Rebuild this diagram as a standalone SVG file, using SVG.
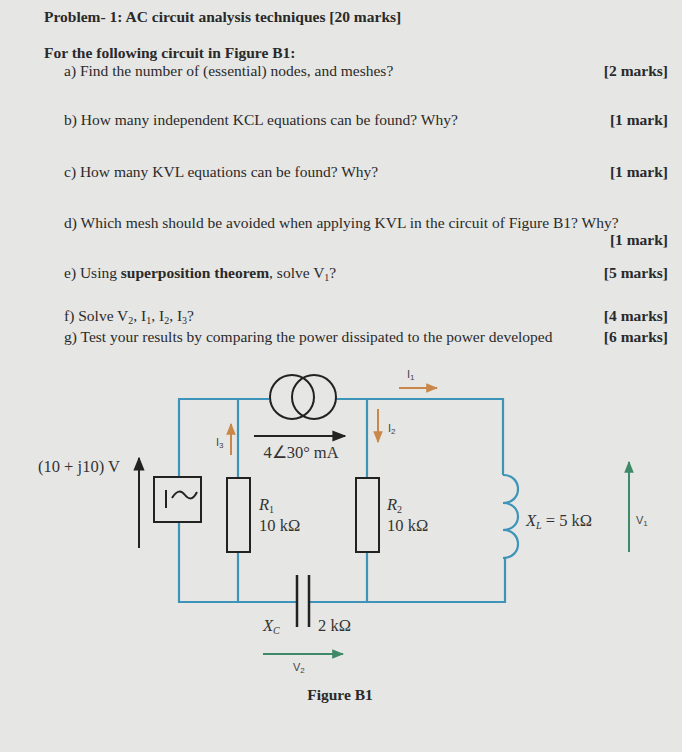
<svg xmlns="http://www.w3.org/2000/svg" width="682" height="752" viewBox="0 0 682 752">
<defs>
<style>
.t{font-family:"Liberation Serif",serif;font-size:15.5px;fill:#2a2a2a}
.b{font-weight:bold}
.w{fill:none;stroke:#3d93b8;stroke-width:2.2}
.k{fill:none;stroke:#222;stroke-width:2}
.c{font-family:"Liberation Serif",serif;font-size:16.5px;fill:#333}
.s{font-family:"Liberation Sans",sans-serif;font-size:11px;fill:#444}
</style>
<marker id="ak" viewBox="0 0 10 10" refX="9" refY="5" markerWidth="7" markerHeight="7" orient="auto"><path d="M0,1L10,5L0,9z" fill="#222"/></marker>
<marker id="ao" viewBox="0 0 10 10" refX="9" refY="5" markerWidth="6" markerHeight="6" orient="auto"><path d="M0,1L10,5L0,9z" fill="#c9874a"/></marker>
<marker id="ag" viewBox="0 0 10 10" refX="9" refY="5" markerWidth="6" markerHeight="6" orient="auto"><path d="M0,1L10,5L0,9z" fill="#3e8a68"/></marker>
</defs>
<rect width="682" height="752" fill="#e6e6e4"/>
<g id="text">
<text class="t b" x="44" y="22">Problem- 1: AC circuit analysis techniques [20 marks]</text>
<text class="t" x="44" y="58"><tspan class="b">For the following circuit in Figure B1:</tspan></text>
<text class="t" x="64" y="76">a)   Find the number of (essential) nodes, and meshes?</text>
<text class="t b" x="668" y="76" text-anchor="end">[2 marks]</text>
<text class="t" x="64" y="125">b)   How many independent KCL equations can be found? Why?</text>
<text class="t b" x="668" y="125" text-anchor="end">[1 mark]</text>
<text class="t" x="64" y="177">c)   How many KVL equations can be found? Why?</text>
<text class="t b" x="668" y="177" text-anchor="end">[1 mark]</text>
<text class="t" x="64" y="228">d)   Which mesh should be avoided when applying KVL in the circuit of Figure B1? Why?</text>
<text class="t b" x="668" y="245" text-anchor="end">[1 mark]</text>
<text class="t" x="64" y="278">e)   Using <tspan class="b">superposition theorem</tspan>, solve V<tspan font-size="10" dy="3">1</tspan><tspan dy="-3">?</tspan></text>
<text class="t b" x="668" y="278" text-anchor="end">[5 marks]</text>
<text class="t" x="64" y="321">f)   Solve V<tspan font-size="10" dy="3">2</tspan><tspan dy="-3">, I</tspan><tspan font-size="10" dy="3">1</tspan><tspan dy="-3">, I</tspan><tspan font-size="10" dy="3">2</tspan><tspan dy="-3">, I</tspan><tspan font-size="10" dy="3">3</tspan><tspan dy="-3">?</tspan></text>
<text class="t b" x="668" y="321" text-anchor="end">[4 marks]</text>
<text class="t" x="64" y="342">g)   Test your results by comparing the power dissipated to the power developed</text>
<text class="t b" x="668" y="342" text-anchor="end">[6 marks]</text>
<text class="t b" x="340" y="700" text-anchor="middle" font-size="14">Figure B1</text>
</g>
<g id="connectors">
<path class="w" d="M269,399H179V602H297M309,602H505V558M503,475V399H336M238,399V478M238,552V602M367,399V478M367,552V602"/>
<path class="w" d="M503,475c20,0 20,28 0,28c20,0 20,27 0,27c20,0 20,28 0,28"/>
<line class="k" x1="254" y1="436" x2="345" y2="436" marker-end="url(#ak)"/>
<line class="k" x1="139" y1="548" x2="139" y2="458" stroke-width="1.5" marker-end="url(#ak)"/>
<line x1="231" y1="455" x2="231" y2="424" stroke="#c9874a" stroke-width="2" marker-end="url(#ao)"/>
<line x1="378" y1="409" x2="378" y2="442" stroke="#c9874a" stroke-width="2" marker-end="url(#ao)"/>
<line x1="399" y1="388" x2="437" y2="388" stroke="#c9874a" stroke-width="2" marker-end="url(#ao)"/>
<line x1="629" y1="552" x2="629" y2="462" stroke="#3e8a68" stroke-width="2" marker-end="url(#ag)"/>
<line x1="263" y1="654" x2="343" y2="654" stroke="#3e8a68" stroke-width="2" marker-end="url(#ag)"/>
</g>
<g id="current-source"><circle class="k" cx="292" cy="397" r="22"/><circle class="k" cx="314" cy="397" r="22"/></g>
<g id="voltage-source"><rect x="154" y="477" width="47" height="45" fill="#e6e6e4" stroke="#222" stroke-width="2"/><path d="M166,490v18M172,498c5,-8 9,-8 13,-3s8,5 12,-3" fill="none" stroke="#222" stroke-width="2"/></g>
<g id="R1"><rect x="227" y="478" width="23" height="74" fill="#e6e6e4" stroke="#222" stroke-width="2"/></g>
<g id="R2"><rect x="356" y="478" width="23" height="74" fill="#e6e6e4" stroke="#222" stroke-width="2"/></g>
<g id="capacitor"><path d="M297,575V627M309,575V627" stroke="#222" stroke-width="2.5"/></g>
<g id="labels">
<text class="c" x="38" y="472">(10 + j10) V</text>
<text class="s" x="216" y="446">I<tspan font-size="8" dy="2">3</tspan></text>
<text class="s" x="388" y="432">I<tspan font-size="8" dy="2">2</tspan></text>
<text class="s" x="407" y="378">I<tspan font-size="8" dy="2">1</tspan></text>
<text class="c" x="301" y="458" text-anchor="middle">4∠30° mA</text>
<text class="c" x="259" y="510" font-style="italic">R<tspan font-size="10" dy="3" font-style="normal">1</tspan></text>
<text class="c" x="259" y="531">10 kΩ</text>
<text class="c" x="387" y="510" font-style="italic">R<tspan font-size="10" dy="3" font-style="normal">2</tspan></text>
<text class="c" x="387" y="531">10 kΩ</text>
<text class="c" x="526" y="526"><tspan font-style="italic">X</tspan><tspan font-size="10" dy="3" font-style="italic">L</tspan><tspan dy="-3"> = 5 kΩ</tspan></text>
<text class="s" x="636" y="524">V<tspan font-size="8" dy="2">1</tspan></text>
<text class="c" x="263" y="631" font-style="italic" fill="#555">X<tspan font-size="10" dy="3">C</tspan></text>
<text class="c" x="318" y="631">2 kΩ</text>
<text class="s" x="293" y="671">V<tspan font-size="8" dy="2">2</tspan></text>
</g>
</svg>
